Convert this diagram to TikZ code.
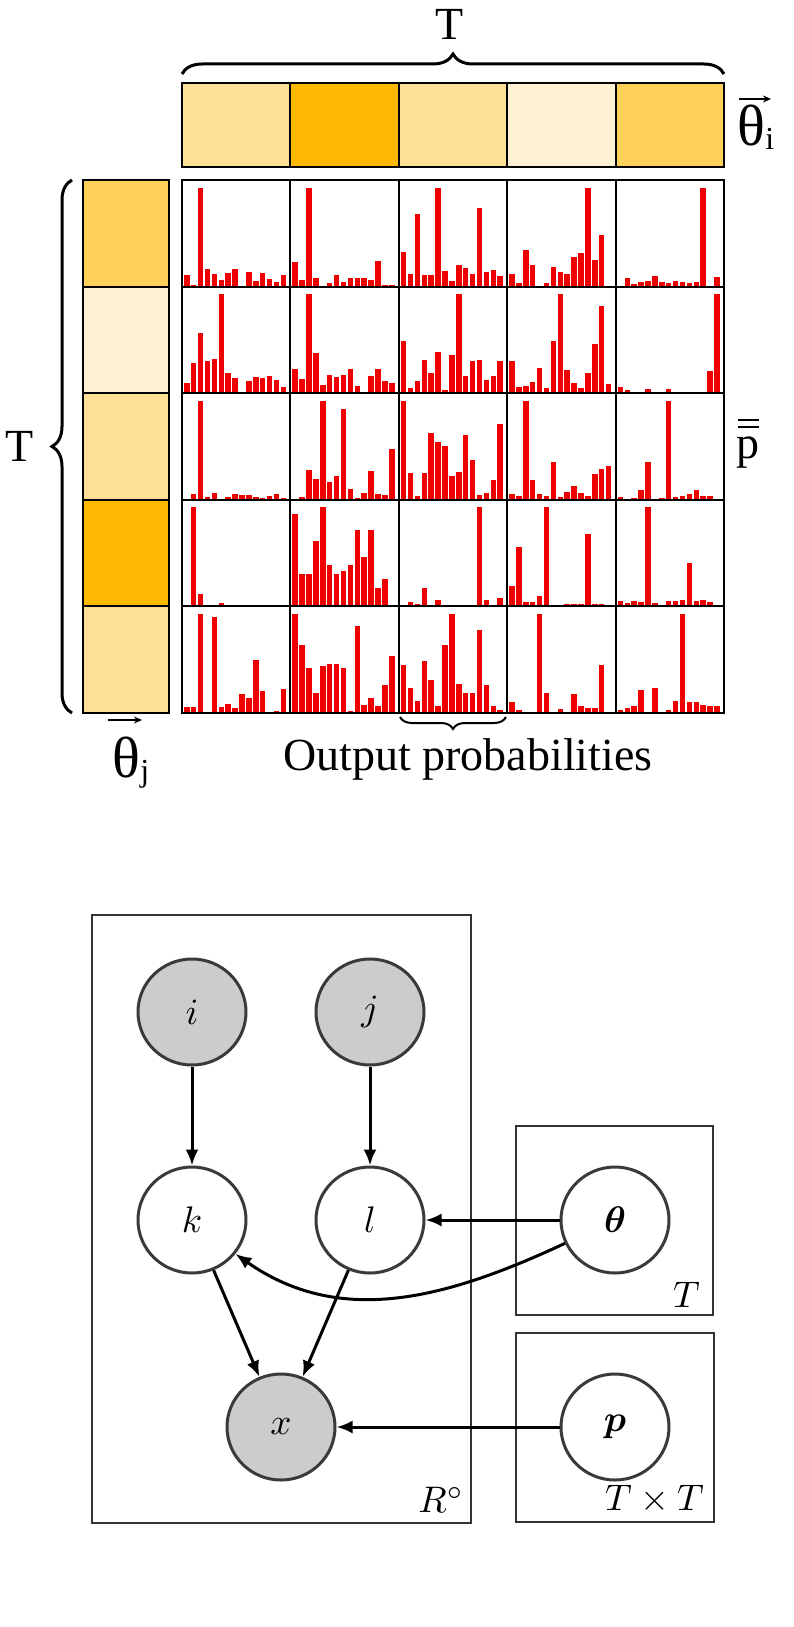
\documentclass[tikz,border=0pt]{standalone}
\usepackage{fontspec}
\usepackage{bm}
\setmainfont{Liberation Serif}
\usetikzlibrary{arrows.meta,decorations.pathreplacing,shapes.geometric}
\definecolor{oA}{HTML}{FEE196}
\definecolor{oB}{HTML}{FDB902}
\definecolor{oC}{HTML}{FEF2D3}
\definecolor{oD}{HTML}{FED258}
\definecolor{barred}{HTML}{EE0000}
\definecolor{nodeline}{HTML}{3A3A3A}
\newcommand{\bigmath}[1]{\scalebox{3.7}{$#1$}}
\tikzset{
  cellbox/.style={draw=black,line width=2pt},
  bar/.style={fill=barred,draw=none},
  gnode/.style={ellipse,draw=nodeline,line width=3pt,minimum width=108pt,minimum height=106pt,inner sep=0pt},
  obs/.style={gnode,fill=black!20},
  lat/.style={gnode,fill=white},
  edge/.style={line width=3pt,-{Latex[length=16pt,width=13pt]}},
  plate/.style={draw=black!80,line width=1.6pt},
  brc/.style={decorate,decoration={brace,amplitude=20pt},line width=3pt},
  bigtxt/.style={font=\fontsize{46}{46}\selectfont,inner sep=0pt}
}
\begin{document}
\begin{tikzpicture}[x=1pt,y=-1pt]
\useasboundingbox (0,0) rectangle (793,1627);
\fill[white] (0,0) rectangle (793,1627);
% top vector
\foreach \c/\col in {1/oA,2/oB,3/oA,4/oC,5/oD}
  \filldraw[fill=\col,cellbox] ({182+(\c-1)*108.4},83) rectangle ({182+\c*108.4},167);
% left vector
\foreach \r/\col in {1/oD,2/oC,3/oA,4/oB,5/oA}
  \filldraw[fill=\col,cellbox] (83,{180+(\r-1)*106.6}) rectangle (169,{180+\r*106.6});
% histograms
\foreach \r/\c/\hs in {
1/1/{1.1,0.1,10,1.7,1.2,0.6,1.3,1.7,0,1.4,0.5,1.3,0.7,0.4,1.1},
1/2/{2.4,0.6,10,0.8,0,0.3,1.1,0.4,0.8,0.8,0.8,0.6,2.5,0.1,0.1},
1/3/{3.4,1.2,7.3,1.1,1.1,10,1.5,0.5,2.1,1.8,1.2,7.9,1.4,1.6,1.0},
1/4/{1.2,0.3,3.6,2.1,0,0.3,1.9,1.4,1.2,2.9,3.3,10,2.6,5.2,0},
1/5/{0,0.8,0.2,0.4,0.5,1.0,0.4,0.3,0.5,0.4,0.3,0.4,10,0,0.9},
2/1/{0.9,3.0,6.0,3.2,3.4,10,2.0,1.4,0,1.1,1.6,1.4,1.7,1.2,0.5},
2/2/{2.4,1.3,10,4.0,0.7,1.8,1.6,1.8,2.4,0.6,0,1.7,2.4,1.1,0.9},
2/3/{5.2,0.4,1.1,3.3,2.0,4.1,0.2,3.8,10,1.7,3.2,3.3,1.2,1.7,3.2},
2/4/{3.2,0.5,0.6,1.0,2.5,0.4,5.2,10,2.3,0.9,0.4,2.0,4.9,8.8,0.8},
2/5/{0.5,0.2,0,0,0.3,0,0,0.3,0,0,0,0,0,2.2,10},
3/1/{0,0.5,10,0.2,0.6,0,0.2,0.5,0.4,0.4,0.2,0.1,0.3,0.5,0.1},
3/2/{0,0.2,2.9,2.0,10,1.7,2.3,9.2,1.0,0.1,0.6,2.8,0.5,0.4,5.1},
3/3/{10,2.6,0.3,2.6,6.7,5.8,5.4,2.3,2.7,6.5,4.0,0.4,0.6,1.9,7.6},
3/4/{0.5,0.3,10,1.9,0.5,0.3,3.8,0.2,0.7,1.3,0.6,0.3,2.5,3.0,3.3},
3/5/{0.2,0,0.1,0.9,3.8,0,0.1,10,0.2,0.3,0.5,0.9,0.3,0.3,0},
4/1/{0,10,1.2,0,0,0.2,0,0,0,0,0,0,0,0,0},
4/2/{9.3,3.2,3.2,6.6,10,4.1,3.2,3.5,4.1,7.7,4.9,7.7,1.8,2.7,0},
4/3/{0,0.3,0.1,1.8,0,0.6,0,0,0,0,0,10,0.6,0,0.8},
4/4/{2.0,6.0,0.3,0.3,1.0,10,0,0,0.1,0.1,0.1,7.3,0.1,0.1,0},
4/5/{0.4,0.2,0.5,0.3,10,0.2,0,0.4,0.4,0.6,4.3,0.5,0.6,0.3,0},
5/1/{0.5,0.5,10,0,9.7,0.5,0.8,0.4,1.8,1.4,5.3,2.1,0,0.1,2.3},
5/2/{10,6.8,4.5,1.9,4.7,4.9,4.9,4.5,0.1,8.8,0.7,1.4,0.6,2.8,5.7},
5/3/{4.8,2.4,1.1,5.2,3.3,0.6,6.8,10,2.9,1.9,1.9,8.4,2.8,0.6,0.2},
5/4/{1.0,0.2,0,0,10,1.9,0,0.3,0,1.8,0.6,0.4,0.4,4.8,0},
5/5/{0.2,0.4,0.6,2.2,0,2.4,0,0.2,1.1,10,1.0,1.0,0.7,0.6,0.6}}
{
  \foreach \h [count=\k] in \hs {
    \fill[bar] ({182+(\c-1)*108.4+2+(\k-1)*6.9},{180+\r*106.6-1}) rectangle ++(5.5,{-\h*9.8});
  }
}
\foreach \r in {1,...,5}\foreach \c in {1,...,5}
  \draw[cellbox] ({182+(\c-1)*108.4},{180+(\r-1)*106.6}) rectangle ({182+\c*108.4},{180+\r*106.6});
% braces and labels
\draw[brc] (182,74) -- (724,74);
\node[bigtxt] (Ttop) at (450,24) {T};
\draw[brc] (72,713) -- (72,180);
\node[bigtxt] (Tleft) at (20,446) {T};
\draw[decorate,decoration={brace,amplitude=12pt,mirror},line width=2pt] (400,717) -- (506,717);
\node[bigtxt] (outp) at (468,759) {Output probabilities};
\node[inner sep=0pt,anchor=base] (thi) at (756,146) {\fontsize{58}{58}\selectfont θ\fontsize{32}{32}\selectfont\raisebox{-4pt}{i}};
\draw[line width=2pt,-{Stealth[length=8pt,width=7pt]}] (739,99) -- (771,99);
\node[inner sep=0pt,anchor=base] (thj) at (131,777) {\fontsize{58}{58}\selectfont θ\fontsize{32}{32}\selectfont\raisebox{-4pt}{j}};
\draw[line width=2pt,-{Stealth[length=8pt,width=7pt]}] (108,720) -- (142,720);
\node[bigtxt,anchor=base] (pp) at (748,458) {p};
\draw[line width=2pt] (738,420) -- (759,420) (738,427) -- (759,427);
% graphical model
\draw[plate] (92,915) rectangle (471,1523);
\draw[plate] (516,1126) rectangle (713,1315);
\draw[plate] (516,1333) rectangle (714,1522);
\node[obs] (i) at (192,1012) {\bigmath{i}};
\node[obs] (j) at (370,1012) {\bigmath{j}};
\node[lat] (k) at (192,1220) {\bigmath{k}};
\node[lat] (l) at (370,1220) {\bigmath{l}};
\node[lat] (th) at (615,1220) {\bigmath{\bm{\theta}}};
\node[obs] (x) at (281,1427) {\bigmath{x}};
\node[lat] (p) at (615,1427) {\bigmath{\bm{p}}};
\node[anchor=south east,inner sep=0pt] (Rl) at (464,1513) {\bigmath{R^\circ}};
\node[anchor=south east,inner sep=0pt] (Tl) at (700,1308) {\bigmath{T}};
\node[anchor=south east,inner sep=0pt] (TTl) at (704,1514) {\bigmath{T\times T}};
\draw[edge] (i) -- (k);
\draw[edge] (j) -- (l);
\draw[edge] (th) -- (l);
\draw[edge] (th.205) to[out=205,in=-35] (k.-38);
\draw[edge] (k) -- (x);
\draw[edge] (l) -- (x);
\draw[edge] (p) -- (x);
\end{tikzpicture}
\end{document}
